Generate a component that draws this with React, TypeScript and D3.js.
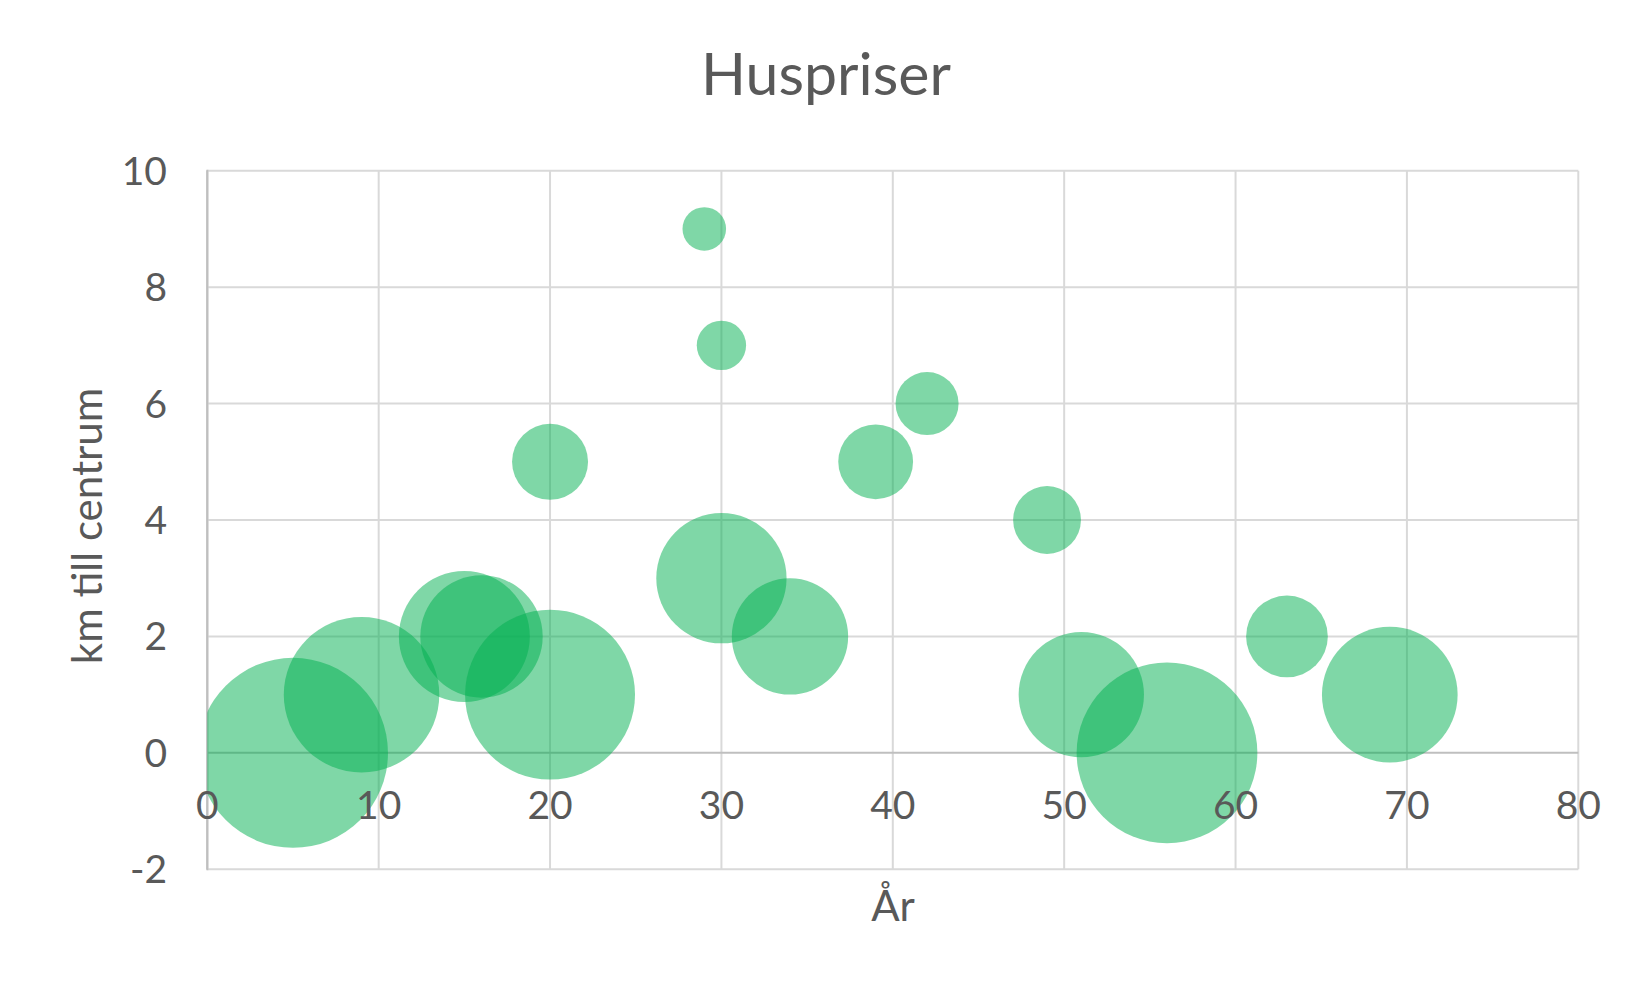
import React, { useEffect, useRef } from "react";
import * as d3 from "d3";

// Husdata: ålder (år), avstånd till centrum (km), pris (bubbelstorlek)
const years = [5, 9, 15, 16, 20, 20, 29, 30, 30, 34, 39, 42, 49, 51, 56, 63, 69];
const kmToCenter = [0, 1, 2, 2, 1, 5, 9, 7, 3, 2, 5, 6, 4, 1, 0, 2, 1];
const prices = [20, 13.4, 9.5, 8.3, 16, 3.2, 1.05, 1.35, 9.4, 7.5, 3.1, 2.2, 2.55, 8.7, 18.1, 3.7, 10.2];

const xTicks = [0, 10, 20, 30, 40, 50, 60, 70, 80];
const yTicks = [-2, 0, 2, 4, 6, 8, 10];

const App = () => {
  const svgRef = useRef<SVGSVGElement | null>(null);

  useEffect(() => {
    document.body.style.margin = "0";

    const width = 1650;
    const height = 990;
    const plot = { left: 207.3, right: 1578.3, top: 170.7, bottom: 869.3 };
    const textColor = "#595959";
    const font = "Lato, 'Open Sans', sans-serif";

    const svg = d3.select(svgRef.current);
    svg.selectAll("*").remove();
    svg.attr("width", width).attr("height", height);

    svg.append("rect").attr("width", width).attr("height", height).attr("fill", "#fff");

    const x = d3.scaleLinear().domain([0, 80]).range([plot.left, plot.right]);
    const y = d3.scaleLinear().domain([-2, 10]).range([plot.bottom, plot.top]);
    const r = d3
      .scaleSqrt()
      .domain([0, d3.max(prices) ?? 1])
      .range([0, 95]);

    // grid
    const grid = svg.append("g");
    grid
      .selectAll("line.v")
      .data(xTicks)
      .join("line")
      .attr("x1", (d) => x(d))
      .attr("x2", (d) => x(d))
      .attr("y1", plot.top)
      .attr("y2", plot.bottom)
      .attr("stroke", (d) => (d === 0 ? "#bfbfbf" : "#d9d9d9"))
      .attr("stroke-width", 2);
    grid
      .selectAll("line.h")
      .data(yTicks.filter((d) => d !== 0))
      .join("line")
      .attr("x1", plot.left)
      .attr("x2", plot.right)
      .attr("y1", (d) => y(d))
      .attr("y2", (d) => y(d))
      .attr("stroke", "#d9d9d9")
      .attr("stroke-width", 2);

    // horizontal axis at y = 0
    svg
      .append("line")
      .attr("x1", plot.left)
      .attr("x2", plot.right)
      .attr("y1", y(0))
      .attr("y2", y(0))
      .attr("stroke", "#bfbfbf")
      .attr("stroke-width", 2);

    // left axis line on top of the horizontal grid
    svg
      .append("line")
      .attr("x1", x(0))
      .attr("x2", x(0))
      .attr("y1", plot.top - 1)
      .attr("y2", plot.bottom + 1)
      .attr("stroke", "#bfbfbf")
      .attr("stroke-width", 2);

    // bubbles
    svg
      .append("clipPath")
      .attr("id", "plot-clip")
      .append("rect")
      .attr("x", plot.left)
      .attr("y", plot.top)
      .attr("width", plot.right - plot.left)
      .attr("height", plot.bottom - plot.top);

    const points = years.map((yr, i) => ({ yr, km: kmToCenter[i], price: prices[i] }));

    svg
      .append("g")
      .attr("clip-path", "url(#plot-clip)")
      .selectAll("circle")
      .data(points)
      .join("circle")
      .attr("cx", (d) => x(d.yr))
      .attr("cy", (d) => y(d.km))
      .attr("r", (d) => r(d.price))
      .attr("fill", "#00b050")
      .attr("fill-opacity", 0.5);

    // tick labels
    svg
      .append("g")
      .selectAll("text")
      .data(xTicks)
      .join("text")
      .attr("x", (d) => x(d))
      .attr("y", 819)
      .attr("text-anchor", "middle")
      .attr("fill", textColor)
      .style("font-family", font)
      .style("font-size", "39px")
      .text((d) => d);

    svg
      .append("g")
      .selectAll("text")
      .data(yTicks)
      .join("text")
      .attr("x", 167)
      .attr("y", (d) => y(d) + 14)
      .attr("text-anchor", "end")
      .attr("fill", textColor)
      .style("font-family", font)
      .style("font-size", "39px")
      .text((d) => d);

    // title
    svg
      .append("text")
      .attr("x", 826)
      .attr("y", 95)
      .attr("text-anchor", "middle")
      .attr("fill", textColor)
      .style("font-family", font)
      .style("font-size", "59px")
      .text("Huspriser");

    // axis titles
    svg
      .append("text")
      .attr("x", 893)
      .attr("y", 921)
      .attr("text-anchor", "middle")
      .attr("fill", textColor)
      .style("font-family", font)
      .style("font-size", "42px")
      .text("År");

    svg
      .append("text")
      .attr("transform", "translate(102,526) rotate(-90)")
      .attr("text-anchor", "middle")
      .attr("fill", textColor)
      .style("font-family", font)
      .style("font-size", "42px")
      .text("km till centrum");
  }, []);

  return <svg ref={svgRef} style={{ display: "block" }} />;
};

export default App;
